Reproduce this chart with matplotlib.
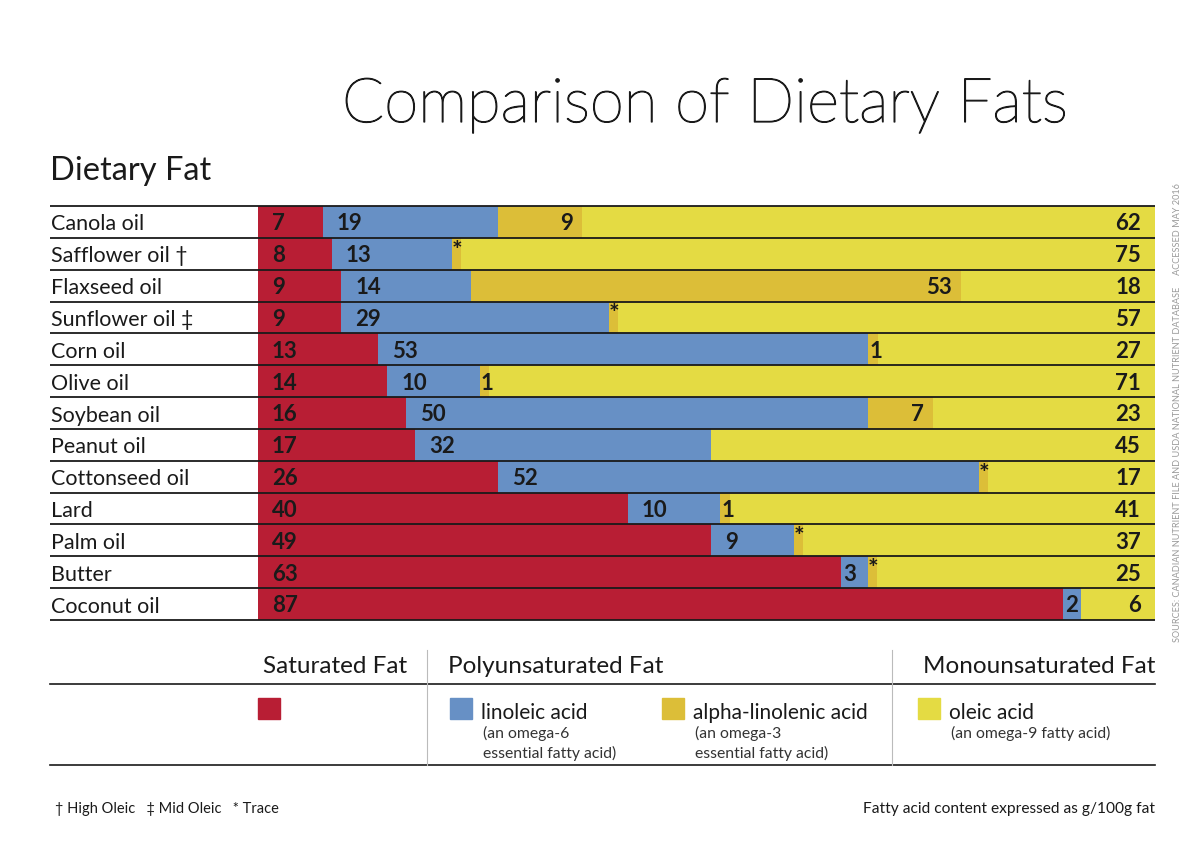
import numpy as np
import matplotlib
matplotlib.use("Agg")
import matplotlib.pyplot as plt
import matplotlib.patheffects as pe
from matplotlib.patches import Rectangle
from matplotlib.lines import Line2D

plt.rcParams['font.family'] = ['Lato', 'DejaVu Sans']

# data, g/100g fat
oils = ["Canola oil", "Safflower oil \u2020", "Flaxseed oil", "Sunflower oil \u2021",
        "Corn oil", "Olive oil", "Soybean oil", "Peanut oil", "Cottonseed oil",
        "Lard", "Palm oil", "Butter", "Coconut oil"]
saturated = [7, 8, 9, 9, 13, 14, 16, 17, 26, 40, 49, 63, 87]
linoleic = [19, 13, 14, 29, 53, 10, 50, 32, 52, 10, 9, 3, 2]
alpha_linolenic = [9, "*", 53, "*", 1, 1, 7, 0, "*", 1, "*", "*", 0]   # "*" = trace
oleic = [62, 75, 18, 57, 27, 71, 23, 45, 17, 41, 37, 25, 6]

TRACE = 0.9   # drawn width for trace amounts
FULL = 97     # scale of the full bar width; oleic runs on to the edge

RED = "#B81E34"
BLUE = "#6790C5"
GOLD = "#DCBE38"
YELLOW = "#E4DB43"
INK = "#1a1a1a"

W, H = 1200, 851
fig = plt.figure(figsize=(W / 100, H / 100), dpi=100)


def fx(px):
    return px / W


def fy(py):
    return 1 - py / H


ax = fig.add_axes([fx(258), fy(620), (1155 - 258) / W, (620 - 206) / H])
ax.set_xlim(0, FULL)
ax.set_ylim(len(oils), 0)
ax.axis("off")

unit = FULL / 897.0   # data units per pixel
pad = 14 * unit
num_kw = dict(fontsize=16, fontweight="bold", color=INK, va="center")
for i, name in enumerate(oils):
    a = alpha_linolenic[i]
    a_val = TRACE if a == "*" else a
    vals = [saturated[i], linoleic[i], a_val]
    lefts = np.concatenate([[0], np.cumsum(vals)])
    for v, l, c in zip(vals, lefts, [RED, BLUE, GOLD]):
        if v > 0:
            ax.barh(i + 0.5, v, left=l, height=1, color=c, edgecolor="none")
    ax.barh(i + 0.5, max(oleic[i], FULL - lefts[3]), left=lefts[3], height=1,
            color=YELLOW, edgecolor="none")
    yt = i + 0.56
    ax.text(lefts[0] + pad, yt, str(saturated[i]), ha="left", **num_kw)
    bpad = pad if linoleic[i] > 5 else 3 * unit
    ax.text(lefts[1] + bpad, yt, str(linoleic[i]), ha="left", **num_kw)
    if a == "*":
        ax.text(lefts[2] - 1 * unit, i + 0.42, "*", ha="left",
                **{**num_kw, "fontsize": 18})
    elif a:
        if a > 4:
            ax.text(lefts[3] - 9 * unit, yt, str(a), ha="right", **num_kw)
        else:
            ax.text(lefts[2] + 1 * unit, yt, str(a), ha="left", **num_kw)
    ax.text(FULL - pad, yt, str(oleic[i]), ha="right", **num_kw)
    ax.text(-207 * unit, i + 0.58, name, ha="left", va="center", fontsize=15.5, color=INK)

for k in range(len(oils) + 1):
    ax.plot([-208 * unit, FULL], [k, k], color=INK, lw=1.3, clip_on=False,
            solid_capstyle="butt")

# titles
fig.text(fx(342), fy(122), "Comparison of Dietary Fats", fontsize=44.5, fontweight="light",
         color=INK, va="baseline", ha="left",
         path_effects=[pe.withStroke(linewidth=0.9, foreground=INK)])
fig.text(fx(50), fy(180), "Dietary Fat", fontsize=23.5, color=INK, va="baseline", ha="left")

# legend block
for yy in (684, 765):
    fig.add_artist(Line2D([fx(50), fx(1155)], [fy(yy), fy(yy)], color=INK, lw=1.2))
for xx in (427, 892):
    fig.add_artist(Line2D([fx(xx), fx(xx)], [fy(650), fy(765)], color="#bbbbbb", lw=0.8))

hdr = dict(fontsize=17.5, color=INK, va="baseline")
fig.text(fx(407), fy(673), "Saturated Fat", ha="right", **hdr)
fig.text(fx(448), fy(673), "Polyunsaturated Fat", ha="left", **hdr)
fig.text(fx(1155), fy(673), "Monounsaturated Fat", ha="right", **hdr)

legend_items = [
    (258, RED, None, None),
    (450, BLUE, "linoleic acid", "(an omega-6\nessential fatty acid)"),
    (662, GOLD, "alpha-linolenic acid", "(an omega-3\nessential fatty acid)"),
    (918, YELLOW, "oleic acid", "(an omega-9 fatty acid)"),
]
for x0, c, lab, sub in legend_items:
    fig.add_artist(Rectangle((fx(x0), fy(719)), 22 / W, 21 / H, color=c,
                             transform=fig.transFigure))
    if lab:
        fig.text(fx(x0 + 31), fy(719), lab, fontsize=15, color=INK, ha="left", va="baseline")
        fig.text(fx(x0 + 33), fy(726), sub, fontsize=11.3, color="#333333", ha="left",
                 va="top", linespacing=1.4)

# footer
fig.text(fx(55), fy(813), "\u2020 High Oleic   \u2021 Mid Oleic   * Trace", fontsize=10.5,
         color=INK, ha="left", va="baseline")
fig.text(fx(1155), fy(813), "Fatty acid content expressed as g/100g fat", fontsize=11.2,
         color=INK, ha="right", va="baseline")

fig.text(fx(1178), fy(413),
         "SOURCES: CANADIAN NUTRIENT FILE AND USDA NATIONAL NUTRIENT DATABASE     ACCESSED MAY 2016",
         rotation=90, ha="center", va="center", fontsize=6.6, color="#9a9a9a")

fig.savefig("out.png", dpi=100, facecolor="white")
